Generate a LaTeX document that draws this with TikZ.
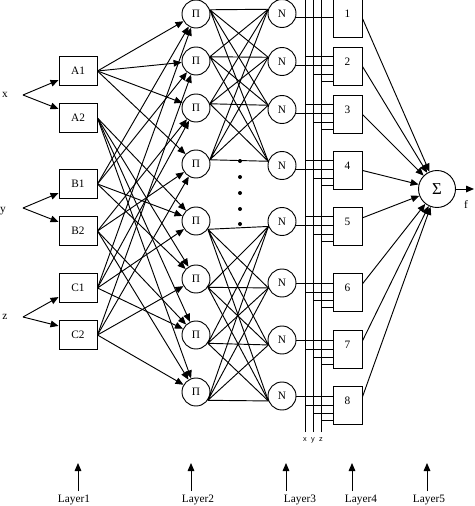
\documentclass[tikz,border=0pt]{standalone}
\usepackage{fontspec}
\setmainfont{Liberation Serif}
\newfontfamily\busfont{Liberation Sans}
\usetikzlibrary{arrows.meta}

\tikzset{every picture/.style={line width=0.7pt}}
\tikzset{
  membox/.style={draw, minimum width=28.5pt, minimum height=21.75pt, inner sep=0pt, font=\fontsize{8.5}{10}\selectfont},
  prodnode/.style={draw, circle, minimum size=21pt, inner sep=0pt, font=\fontsize{8.5}{10}\selectfont},
  rulebox/.style={draw, anchor=north, minimum width=21.75pt, minimum height=28.5pt, inner sep=0pt, text height=5.8pt, text depth=7.5pt, font=\fontsize{8.5}{10}\selectfont},
  sumnode/.style={draw, circle, minimum size=27.75pt, inner sep=0pt, font=\fontsize{12.5}{14}\selectfont},
  txt/.style={inner sep=0.75pt, font=\fontsize{8.5}{10}\selectfont},
  bustxt/.style={inner sep=0.5pt, font=\busfont\fontsize{5.5}{6}\selectfont},
  arr/.style={-{Triangle[length=6pt,width=5pt]}}
}

\begin{document}
\begin{tikzpicture}[x=0.75pt,y=0.75pt,yscale=-1,xscale=1]
\useasboundingbox (0,0) rectangle (474,506);

% Text Node
\node[txt] (inx) at (5,95) {x};
% Text Node
\node[txt] (iny) at (3,211) {y};
% Text Node
\node[txt] (inz) at (5,317) {z};
\coordinate (bx) at (23,95);
\coordinate (by) at (23,208);
\coordinate (bz) at (23,317);

%Shape: Rectangle
\node[membox] (A1) at (78,71) {A1};
\node[membox] (A2) at (78,118) {A2};
\node[membox] (B1) at (78,184) {B1};
\node[membox] (B2) at (78,231) {B2};
\node[membox] (C1) at (78,288) {C1};
\node[membox] (C2) at (78,335) {C2};

%Shape: Circle
\node[prodnode] (P1) at (196,14) {Π};
\node[prodnode] (P2) at (196,61) {Π};
\node[prodnode] (P3) at (196,108) {Π};
\node[prodnode] (P4) at (196,164) {Π};
\node[prodnode] (P5) at (196,221) {Π};
\node[prodnode] (P6) at (196,279) {Π};
\node[prodnode] (P7) at (196,335) {Π};
\node[prodnode] (P8) at (196,392) {Π};

%Shape: Circle
\node[prodnode] (N1) at (282,13.5) {N};
\node[prodnode] (N2) at (282,61.5) {N};
\node[prodnode] (N3) at (282,109.5) {N};
\node[prodnode] (N4) at (282,165.5) {N};
\node[prodnode] (N5) at (282,221.5) {N};
\node[prodnode] (N6) at (282,283) {N};
\node[prodnode] (N7) at (282,340) {N};
\node[prodnode] (N8) at (282,396) {N};

%Shape: Rectangle
\node[rulebox] (R1) at (347.5,-1) {1};
\node[rulebox] (R2) at (347.5,47) {2};
\node[rulebox] (R3) at (347.5,95) {3};
\node[rulebox] (R4) at (347.5,151) {4};
\node[rulebox] (R5) at (347.5,207) {5};
\node[rulebox] (R6) at (347.5,273) {6};
\node[rulebox] (R7) at (347.5,330) {7};
\node[rulebox] (R8) at (347.5,386) {8};

%Shape: Circle
\node[sumnode] (S) at (437,189) {Σ};

%Straight Lines
\draw[arr] (bx) -- (A1.205);
\draw[arr] (bx) -- (A2.155);
\draw[arr] (by) -- (B1.205);
\draw[arr] (by) -- (B2.155);
\draw[arr] (bz) -- (C1.205);
\draw[arr] (bz) -- (C2.155);

%Straight Lines
\draw[arr] (A1.east) -- (P1);
\draw[arr] (A1.east) -- (P2);
\draw[arr] (A1.east) -- (P3);
\draw[arr] (A1.east) -- (P4);
\draw[arr] (A2.east) -- (P5);
\draw[arr] (A2.east) -- (P6);
\draw[arr] (A2.east) -- (P7);
\draw[arr] (A2.east) -- (P8);
\draw[arr] (B1.east) -- (P1);
\draw[arr] (B1.east) -- (P2);
\draw[arr] (B1.east) -- (P5);
\draw[arr] (B1.east) -- (P6);
\draw[arr] (B2.east) -- (P3);
\draw[arr] (B2.east) -- (P4);
\draw[arr] (B2.east) -- (P7);
\draw[arr] (B2.east) -- (P8);
\draw[arr] (C1.east) -- (P1);
\draw[arr] (C1.east) -- (P3);
\draw[arr] (C1.east) -- (P5);
\draw[arr] (C1.east) -- (P7);
\draw[arr] (C2.east) -- (P2);
\draw[arr] (C2.east) -- (P4);
\draw[arr] (C2.east) -- (P6);
\draw[arr] (C2.east) -- (P8);

%Straight Lines
\draw (P1.17) -- (N1.163) (P1.17) -- (N2.163) (P1.17) -- (N3.163) (P1.17) -- (N4.163);
\draw (P2.17) -- (N1.163) (P2.17) -- (N2.163) (P2.17) -- (N3.163) (P2.17) -- (N4.163);
\draw (P3.17) -- (N1.163) (P3.17) -- (N2.163) (P3.17) -- (N3.163) (P3.17) -- (N4.163);
\draw (P4.17) -- (N1.163) (P4.17) -- (N2.163) (P4.17) -- (N3.163) (P4.17) -- (N4.163);
\draw (P5.-35) -- (N5.-160) (P5.-35) -- (N6.-160) (P5.-35) -- (N7.-160) (P5.-35) -- (N8.-160);
\draw (P6.-35) -- (N5.-160) (P6.-35) -- (N6.-160) (P6.-35) -- (N7.-160) (P6.-35) -- (N8.-160);
\draw (P7.-35) -- (N5.-160) (P7.-35) -- (N6.-160) (P7.-35) -- (N7.-160) (P7.-35) -- (N8.-160);
\draw (P8.-35) -- (N5.-160) (P8.-35) -- (N6.-160) (P8.-35) -- (N7.-160) (P8.-35) -- (N8.-160);

%Shape: Circle
\fill (240,161) circle (2);
\fill (240,177) circle (2);
\fill (240,193) circle (2);
\fill (240,209) circle (2);
\fill (240,224) circle (2);

%Straight Lines
\draw (N1.-15) -- (N1.-15 -| R1.west);
\draw (N2.-15) -- (N2.-15 -| R2.west);
\draw (N3.-15) -- (N3.-15 -| R3.west);
\draw (N4.-15) -- (N4.-15 -| R4.west);
\draw (N5.-15) -- (N5.-15 -| R5.west);
\draw (N6.east) -- (N6.east -| R6.west);
\draw (N7.east) -- (N7.east -| R7.west);
\draw (N8.east) -- (N8.east -| R8.west);

%Straight Lines
\coordinate (xb) at (305,432);
\coordinate (yb) at (313,432);
\coordinate (zb) at (321,432);
\draw (xb) |- ([yshift=-7.1pt]R1.north west);
\draw (yb) |- ([yshift=-20.25pt]R1.north west);
\draw (zb) |- ([yshift=-25.5pt]R1.north west);
\draw (R2.north west) ++(0,9.5) -- ++(-28,0) (R2.north west) ++(0,27) -- ++(-20,0) (R2.north west) ++(0,34) -- ++(-12,0);
\draw (R3.north west) ++(0,9.5) -- ++(-28,0) (R3.north west) ++(0,27) -- ++(-20,0) (R3.north west) ++(0,34) -- ++(-12,0);
\draw (R4.north west) ++(0,9.5) -- ++(-28,0) (R4.north west) ++(0,27) -- ++(-20,0) (R4.north west) ++(0,34) -- ++(-12,0);
\draw (R5.north west) ++(0,9.5) -- ++(-28,0) (R5.north west) ++(0,27) -- ++(-20,0) (R5.north west) ++(0,34) -- ++(-12,0);
\draw (R6.north west) ++(0,19) -- ++(-28,0) (R6.north west) ++(0,27) -- ++(-20,0) (R6.north west) ++(0,34) -- ++(-12,0);
\draw (R7.north west) ++(0,19) -- ++(-28,0) (R7.north west) ++(0,27) -- ++(-20,0) (R7.north west) ++(0,34) -- ++(-12,0);
\draw (R8.north west) ++(0,19) -- ++(-28,0) (R8.north west) ++(0,27) -- ++(-20,0) (R8.north west) ++(0,34) -- ++(-12,0);

% Text Node
\node[bustxt] (xl) at (305,440) {x};
\node[bustxt] (yl) at (313,440) {y};
\node[bustxt] (zl) at (321,440) {z};

%Straight Lines
\draw[arr] (R1.east) -- (S);
\draw[arr] (R2.east) -- (S);
\draw[arr] (R3.east) -- (S);
\draw[arr] (R4.east) -- (S);
\draw[arr] (R5.30) -- (S);
\draw[arr] (R6.30) -- (S);
\draw[arr] (R7.30) -- (S);
\draw[arr] (R8.30) -- (S);
\coordinate (fend) at (474,189);
\draw[arr] (S) -- (fend);
% Text Node
\node[txt] (fl) at (466,205) {f};

%Straight Lines
\coordinate (g1b) at (78,491);  \coordinate (g1t) at (78,463);
\coordinate (g2b) at (191,491); \coordinate (g2t) at (191,463);
\coordinate (g3b) at (286,491); \coordinate (g3t) at (286,463);
\coordinate (g4b) at (352,491); \coordinate (g4t) at (352,463);
\coordinate (g5b) at (427,491); \coordinate (g5t) at (427,463);
\draw[arr] (g1b) -- (g1t);
\draw[arr] (g2b) -- (g2t);
\draw[arr] (g3b) -- (g3t);
\draw[arr] (g4b) -- (g4t);
\draw[arr] (g5b) -- (g5t);

% Text Node
\node[txt] (lay1) at (74,500) {Layer1};
% Text Node
\node[txt] (lay2) at (198,500) {Layer2};
% Text Node
\node[txt] (lay3) at (300,500) {Layer3};
% Text Node
\node[txt] (lay4) at (361,500) {Layer4};
% Text Node
\node[txt] (lay5) at (429,500) {Layer5};

\end{tikzpicture}
\end{document}
